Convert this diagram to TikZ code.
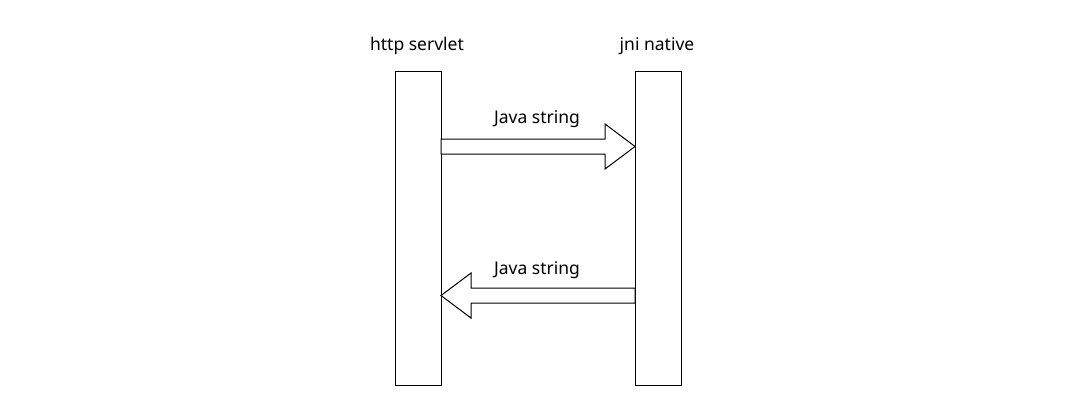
\documentclass[tikz,border=0pt]{standalone}
\usepackage{fontspec}
\setmainfont{Noto Sans}
\begin{document}
\begin{tikzpicture}[x=1pt,y=-1pt,
  bar/.style={draw,line width=1pt,fill=white},
  lbl/.style={font=\fontsize{17.5}{20}\selectfont},
  fat/.style={draw,line width=1pt,fill=white,line join=miter}]
\useasboundingbox (0,0) rectangle (1067,410);
\draw[bar] (395,71) rectangle (441,385);
\draw[bar] (635,71) rectangle (681,385);
\node[lbl] (hs) at (417,46) {http servlet};
\node[lbl] (jn) at (657,46) {jni native};
\node[lbl] (t1) at (537,119) {Java string};
\node[lbl] (t2) at (537,270) {Java string};
\draw[fat] (441,139) -- (605,139) -- (605,124) -- (635,146.5) -- (605,169) -- (605,154) -- (441,154) -- cycle;
\draw[fat] (635,288) -- (471,288) -- (471,273) -- (441,295.5) -- (471,318) -- (471,303) -- (635,303) -- cycle;
\end{tikzpicture}
\end{document}
